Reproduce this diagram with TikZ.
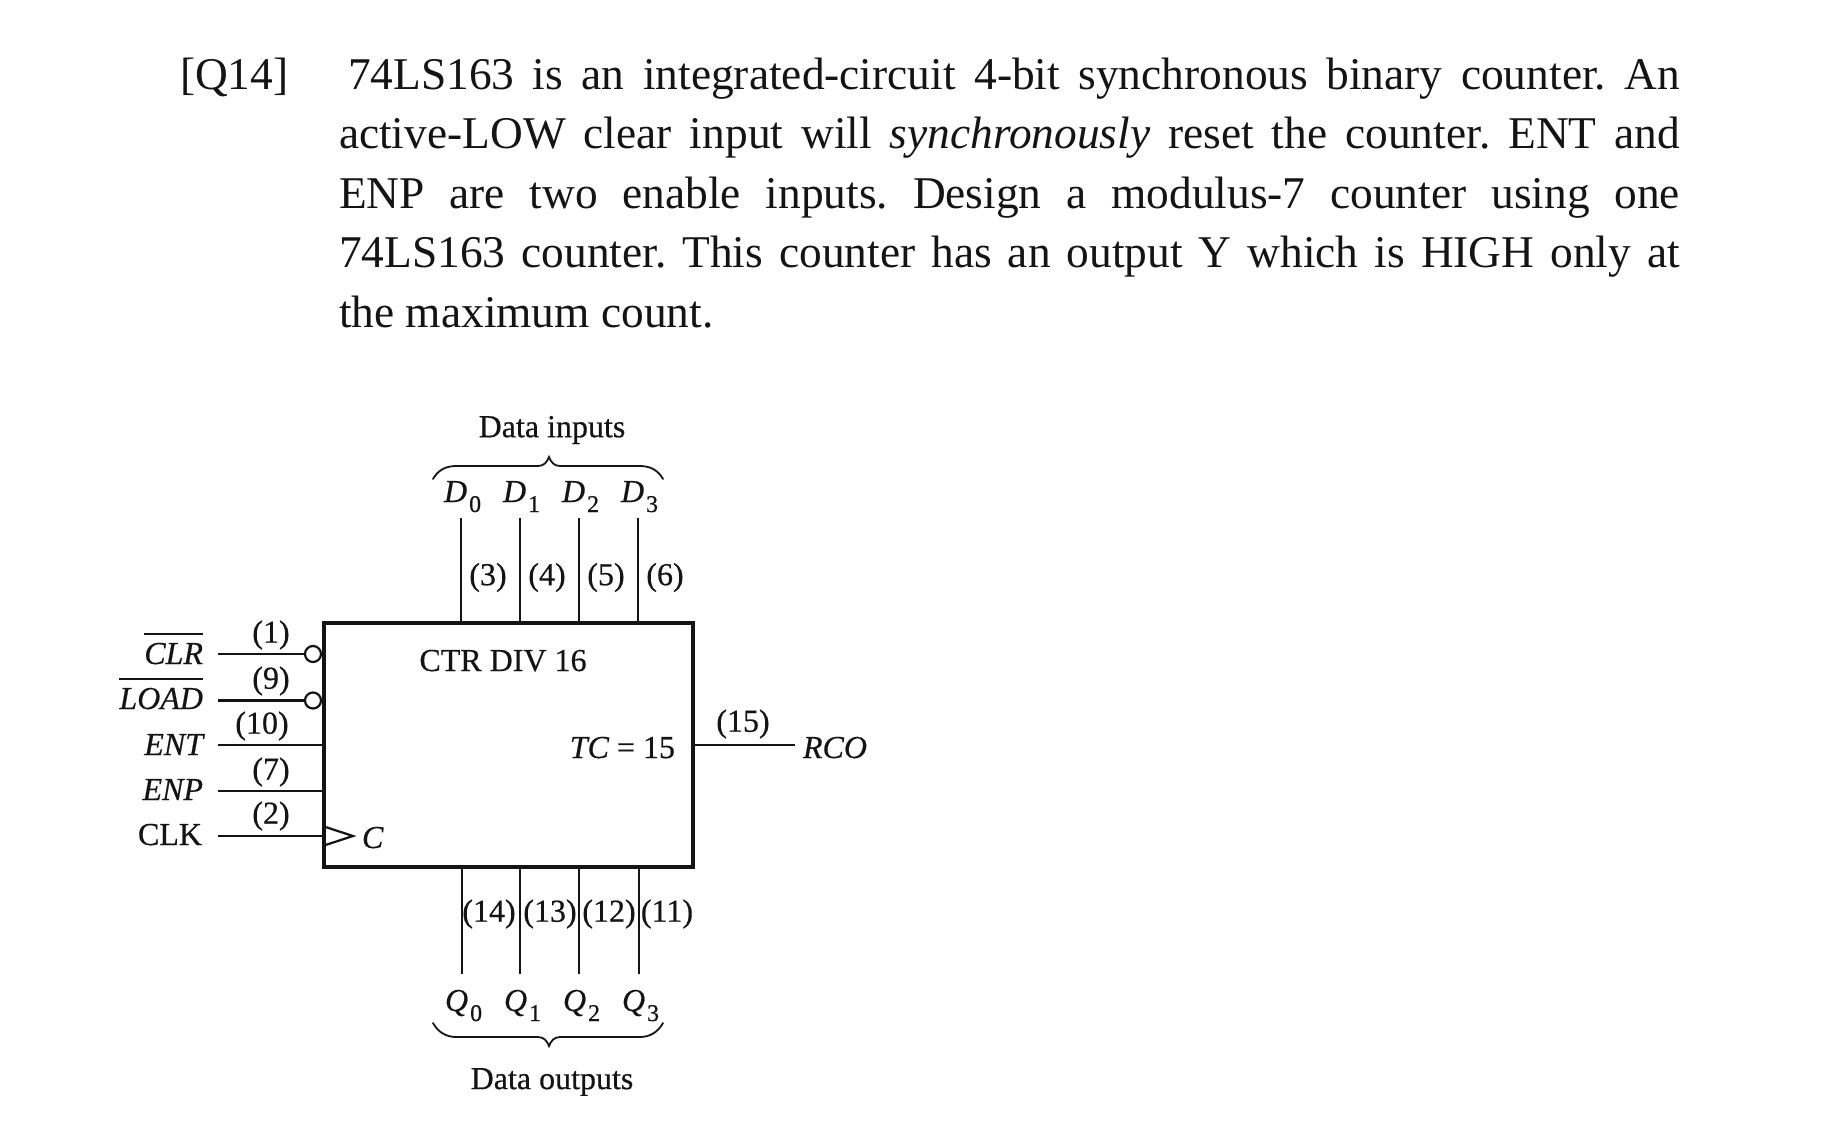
\documentclass[tikz,border=0pt]{standalone}
\usepackage{fontspec}
\setmainfont{Liberation Serif}
\frenchspacing
\newcommand{\fa}{\fontsize{45.4}{59}\selectfont}
\newcommand{\fb}{\fontsize{32}{36}\selectfont\addfontfeature{FakeBold=0.5}}
\newcommand{\psub}[2]{{\itshape\addfontfeature{FakeBold=0.5}#1}\kern2pt\raisebox{-10pt}{\fontsize{24}{26}\selectfont\addfontfeature{FakeBold=0.5}#2}}
\newcommand{\ovl}[1]{\vbox{\hrule height 2pt \kern 8pt \hbox{#1}}}
\newcommand{\jline}[2]{\hbox to #1{\fa\spaceskip=0.25em plus 1fil\relax #2}}
\tikzset{
  bodyline/.style={anchor=base west,inner sep=0pt,outer sep=0pt,text=black!92},
  lbl/.style={inner sep=0pt,outer sep=0pt,font=\fb,text=black!92},
  sig/.style={lbl,anchor=base east,font=\fb\itshape\addfontfeature{FakeBold=0.5}},
  wire/.style={line width=2.2pt,draw=black!92},
  chip/.style={draw=black!92,line width=4.6pt,minimum width=369pt,minimum height=244pt,inner sep=0pt,outer sep=0pt},
  bubble/.style={circle,draw=black!92,line width=2.2pt,fill=white,minimum size=16pt,inner sep=0pt,outer sep=0pt},
  bracket/.style={line width=1.8pt,draw=black!92,line cap=round}
}
\begin{document}
\begin{tikzpicture}[x=1pt,y=-1pt]
\useasboundingbox[fill=white] (0,0) rectangle (1822,1133);
% question text
\node[bodyline] (q) at (180,89) {\fa [Q14]};
\node[bodyline] (l1) at (348,89) {\jline{1332pt}{74LS163 is an integrated-circuit 4-bit synchronous binary counter. An}};
\node[bodyline] (l2) at (339,148.5) {\jline{1341pt}{active-LOW clear input will \textit{synchronously} reset the counter. ENT and}};
\node[bodyline] (l3) at (339,208) {\jline{1341pt}{ENP are two enable inputs. Design a modulus-7 counter using one}};
\node[bodyline] (l4) at (339,267.5) {\jline{1341pt}{74LS163 counter. This counter has an output Y which is HIGH only at}};
\node[bodyline] (l5) at (339,327) {\fa the maximum count.};
% chip
\node[chip] (ctr) at (508.5,745) {};
\node[lbl,anchor=base] (title) at (503,671) {CTR DIV 16};
\node[lbl,anchor=base east] (tc) at (675,758) {{\itshape\addfontfeature{FakeBold=0.5}TC} = 15};
\node[lbl,anchor=base west] (cc) at (362,848) {{\itshape\addfontfeature{FakeBold=0.5}C}};
% left inputs
\node[sig] (clr) at (203,664) {\ovl{CLR}};
\node[sig] (load) at (203,709) {\ovl{LOAD}};
\node[sig] (ent) at (203,755) {ENT};
\node[sig] (enp) at (203,800) {ENP};
\node[lbl,anchor=base east] (clk) at (202,845) {CLK};
\coordinate (wclr) at (218,654);
\coordinate (wload) at (218,700.5);
\coordinate (went) at (218,745);
\coordinate (wenp) at (218,791);
\coordinate (wclk) at (218,836);
\node[bubble] (bclr) at (313,654) {};
\node[bubble] (bload) at (313,700.5) {};
\draw[wire] (wclr) -- (bclr);
\draw[wire] (wload) -- (bload);
\draw[wire] (went) -- (went -| ctr.west);
\draw[wire] (wenp) -- (wenp -| ctr.west);
\draw[wire] (wclk) -- (wclk -| ctr.west);
\node[lbl] (n1) at (271,635) {(1)};
\node[lbl] (n9) at (271,681) {(9)};
\node[lbl] (n10) at (262,726) {(10)};
\node[lbl] (n7) at (271,772) {(7)};
\node[lbl] (n2) at (271,816) {(2)};
\draw[wire,line join=miter] (wclk -| ctr.west) ++(0,-9.5) -- ++(29,9.5) -- ++(-29,9.5);
% right output
\coordinate (wrco) at (795,745);
\draw[wire] (ctr.east |- wrco) -- (wrco);
\node[lbl] (n15) at (743,724) {(15)};
\node[sig,anchor=base west] (rco) at (803,758) {RCO};
% data inputs
\foreach \nm/\x/\nx/\pn/\sx/\sb in {a/461/488/3/444/0,b/520/547/4/503/1,c/579/606/5/562/2,d/638/665/6/621/3}{
  \coordinate (in\nm) at (\x,518);
  \draw[wire] (in\nm) -- (in\nm |- ctr.north);
  \node[lbl] (pin\nm) at (\nx,577.5) {(\pn)};
  \node[lbl,anchor=base west] (dl\nm) at (\sx,502) {\psub{D}{\sb}};
}
% data outputs
\foreach \nm/\x/\nx/\pn/\sx/\sb in {a/462/489/14/445/0,b/520/550/13/504/1,c/579/609/12/563/2,d/639/667/11/622/3}{
  \coordinate (out\nm) at (\x,974);
  \draw[wire] (out\nm) -- (out\nm |- ctr.south);
  \node[lbl] (pout\nm) at (\nx,914) {(\pn)};
  \node[lbl,anchor=base west] (ql\nm) at (\sx,1011) {\psub{Q}{\sb}};
}
% braces
\node[lbl] (din) at (552,430) {Data inputs};
\node[lbl] (dout) at (552,1082) {Data outputs};
\draw[bracket] (433,479) .. controls (438,470) and (446,466) .. (456,466) -- (538,466) .. controls (544,466) and (547,462) .. (549,457) .. controls (551,462) and (554,466) .. (560,466) -- (640,466) .. controls (650,466) and (658,470) .. (663,479);
\draw[bracket] (433,1023) .. controls (438,1032) and (446,1037) .. (456,1037) -- (538,1037) .. controls (544,1037) and (547,1041) .. (549,1046) .. controls (551,1041) and (554,1037) .. (560,1037) -- (640,1037) .. controls (650,1037) and (658,1032) .. (663,1023);
\end{tikzpicture}
\end{document}
